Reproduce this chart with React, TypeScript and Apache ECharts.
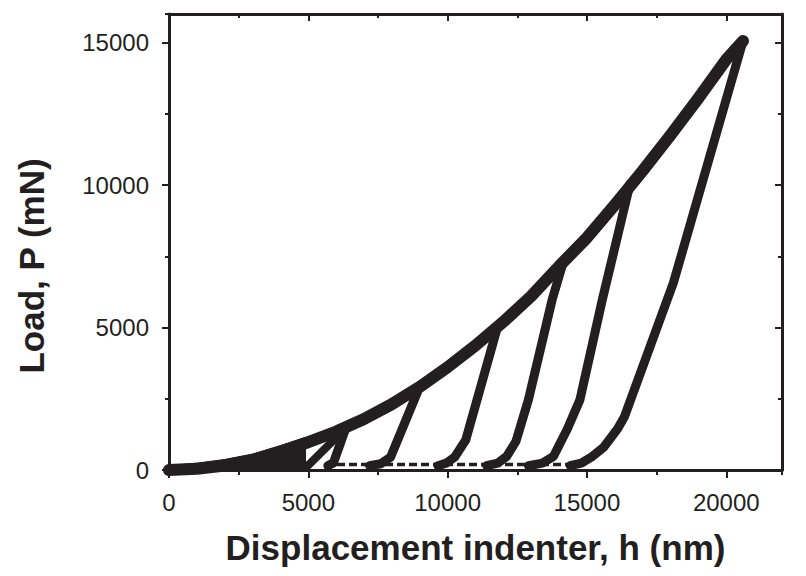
import React, { useEffect, useRef } from "react";
import * as echarts from "echarts";

const INK = "#231f20";
const FONT = "Liberation Sans, Arial, Helvetica, sans-serif";

// Loading envelope (displacement nm, load mN)
const LOAD_H = [0, 1000, 2000, 3000, 4000, 5000, 6000, 7000, 8000, 9000, 10000, 11000, 12000, 13000, 14000, 15000, 16000, 17000, 18000, 19000, 20000, 20600];
const LOAD_P = [0, 40, 160, 350, 620, 980, 1350, 1790, 2310, 2920, 3610, 4370, 5200, 6100, 7150, 8150, 9300, 10500, 11750, 13050, 14400, 15050];

// Dense early cycles: upper edge of the filled region under the envelope
const FILL_H = [0, 1000, 2000, 3000, 4000, 4900];
const FILL_P = [150, 240, 370, 560, 860, 1150];

// Reload branch into the first loop
const RELOAD1: number[][] = [[4950, 120], [6350, 1480]];

// Unloading branches
const UNLOAD1: number[][] = [[6350, 1480], [5900, 250], [5700, 150]];
const UNLOAD2: number[][] = [[9000, 2930], [7950, 450], [7600, 220], [7200, 150]];
const UNLOAD3: number[][] = [[11800, 5050], [10650, 1050], [10250, 450], [9950, 240], [9650, 150]];
const UNLOAD4: number[][] = [[14150, 7300], [13750, 5970], [12900, 2470], [12450, 1000], [12120, 480], [11800, 240], [11400, 150]];
const UNLOAD5: number[][] = [[16550, 10050], [15550, 5970], [14750, 2470], [14300, 1450], [13800, 480], [13400, 240], [12900, 150]];
const UNLOAD6: number[][] = [[20600, 15050], [18100, 6560], [16350, 1880], [16100, 1450], [15600, 800], [15200, 480], [14800, 240], [14400, 150]];

// Near-zero load segment along the base
const BASE_H = [5600, 14500];
const BASE_P = 190;

const X_MIN = 0, X_MAX = 22000, X_MAJOR = 5000, X_MINOR = 2500;
const Y_MIN = 0, Y_MAX = 16000, Y_MAJOR = 5000, Y_MINOR = 2500;

const X_TITLE = "Displacement indenter, h (nm)";
const Y_TITLE = "Load, P (mN)";

export default function App() {
  const ref = useRef<HTMLDivElement>(null);
  useEffect(() => {
    const chart = echarts.init(ref.current!, null, { renderer: "svg" });

    const loadData = LOAD_H.map((h, i) => [h, LOAD_P[i]]);
    const fillPts = [...FILL_H.map((h, i) => [h, FILL_P[i]]), [FILL_H[FILL_H.length - 1], 0]];

    const lineSeries = (data: number[][], width: number) => ({
      type: "line",
      data,
      xAxisIndex: 0,
      yAxisIndex: 0,
      showSymbol: false,
      symbol: "none",
      silent: true,
      lineStyle: { color: INK, width, join: "round", cap: "round" },
    });

    const xBase = { type: "value", min: X_MIN, max: X_MAX, splitLine: { show: false } };
    const yBase = { type: "value", min: Y_MIN, max: Y_MAX, splitLine: { show: false } };
    const axisLine = { show: true, onZero: false, lineStyle: { color: INK, width: 3 } };
    const noLine = { show: false, onZero: false };
    const tick = (len: number, inside: boolean) => ({ show: true, inside, length: len, lineStyle: { color: INK, width: 2 } });
    const fmt = (v: number) => String(v);

    const option: any = {
      animation: false,
      backgroundColor: "#ffffff",
      grid: { left: 169, right: 24, top: 14, bottom: 106, containLabel: false },
      xAxis: [
        {
          ...xBase, position: "bottom", interval: X_MAJOR, axisLine, axisTick: tick(8, false),
          axisLabel: { show: true, showMaxLabel: false, formatter: fmt, fontSize: 24, color: INK, margin: 20, fontFamily: FONT },
          name: X_TITLE, nameLocation: "middle", nameGap: 60,
          nameTextStyle: { fontSize: 35, fontWeight: "bold", color: INK, fontFamily: FONT },
        },
        { ...xBase, position: "bottom", interval: X_MINOR, axisLine: noLine, axisTick: tick(5, false), axisLabel: { show: false } },
        { ...xBase, position: "top", interval: X_MAJOR, axisLine, axisTick: tick(7, true), axisLabel: { show: false } },
        { ...xBase, position: "top", interval: X_MINOR, axisLine: noLine, axisTick: tick(4, true), axisLabel: { show: false } },
      ],
      yAxis: [
        {
          ...yBase, position: "left", interval: Y_MAJOR, axisLine, axisTick: tick(7, false),
          axisLabel: { show: true, showMaxLabel: false, formatter: fmt, fontSize: 24, color: INK, margin: 20, fontFamily: FONT },
        },
        { ...yBase, position: "left", interval: Y_MINOR, axisLine: noLine, axisTick: tick(4, false), axisLabel: { show: false } },
        { ...yBase, position: "right", interval: Y_MAJOR, axisLine, axisTick: tick(7, true), axisLabel: { show: false } },
        { ...yBase, position: "right", interval: Y_MINOR, axisLine: noLine, axisTick: tick(4, true), axisLabel: { show: false } },
      ],
      graphic: [
        {
          type: "text",
          x: 31,
          y: 266,
          rotation: Math.PI / 2,
          style: {
            text: Y_TITLE,
            fill: INK,
            font: `bold 35px ${FONT}`,
            textAlign: "center",
            textVerticalAlign: "middle",
          },
        },
      ],
      series: [
        {
          type: "line",
          data: fillPts,
          xAxisIndex: 0,
          yAxisIndex: 0,
          showSymbol: false,
          symbol: "none",
          silent: true,
          lineStyle: { color: INK, width: 1 },
          areaStyle: { color: INK, opacity: 1 },
        },
        {
          type: "line",
          data: [[BASE_H[0], BASE_P], [BASE_H[1], BASE_P]],
          xAxisIndex: 0,
          yAxisIndex: 0,
          showSymbol: false,
          symbol: "none",
          silent: true,
          lineStyle: { color: INK, width: 3.5, type: [8, 4] },
        },
        lineSeries(RELOAD1, 8),
        lineSeries(UNLOAD1, 9),
        lineSeries(UNLOAD2, 9),
        lineSeries(UNLOAD3, 9),
        lineSeries(UNLOAD4, 9),
        lineSeries(UNLOAD5, 9),
        lineSeries(UNLOAD6, 9),
        lineSeries(loadData, 12),
      ],
    };
    chart.setOption(option);
    return () => chart.dispose();
  }, []);
  return (
    <div
      ref={ref}
      style={{ position: "absolute", left: 0, top: 0, width: 806, height: 576, background: "#ffffff" }}
    />
  );
}
